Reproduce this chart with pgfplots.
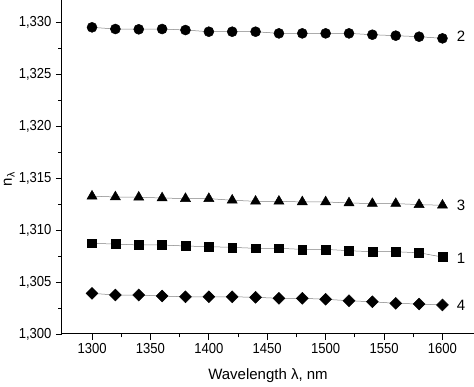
\documentclass[border=0pt]{standalone}
\usepackage{fontspec}
\setmainfont{Liberation Sans}
\newfontfamily\tickfont{Liberation Sans}[FakeStretch=0.9]
\usepackage{pgfplots}
\pgfplotsset{compat=1.18}
\begin{document}
\begin{tikzpicture}[x=1pt,y=1pt]
\begin{axis}[
  at={(0,0)}, anchor=origin,
  scale only axis, width=412pt, height=334pt,
  xmin=1274.3, xmax=1627, ymin=1.300, ymax=1.33212,
  axis lines*=left,
  axis line style={line width=1pt, -},
  tick align=outside,
  major tick length=6pt, minor tick length=3.5pt,
  every tick/.style={black, line width=0.9pt},
  xtick={1300,1350,...,1600}, minor x tick num=1,
  ytick={1.300,1.305,...,1.330}, minor y tick num=1,
  clip=false,
  every tick label/.append style={font=\tickfont\fontsize{14.5}{16}\selectfont},
  /pgf/number format/assume math mode=true,
  yticklabel style={xshift=-1pt, /pgf/number format/.cd, fixed, fixed zerofill, precision=3, use comma},
  xticklabel style={/pgf/number format/.cd, 1000 sep={}},
  scaled y ticks=false,
  xlabel={Wavelength λ, nm},
  xlabel style={font=\fontsize{15}{17}\selectfont, at={(axis description cs:0.5,0)}, anchor=center, yshift=-42pt},
  ylabel={n\textsubscript{λ}},
  ylabel style={font=\fontsize{15}{17}\selectfont, at={(axis description cs:-0.128,0.464)}, anchor=center, rotate=0},
]
\addplot[gray, line width=0.5pt, mark=*, mark size=5pt, mark options={black, fill=black}] coordinates {
(1300,1.32949)(1320,1.32933)(1340,1.32930)(1360,1.32933)(1380,1.32923)(1400,1.32907)(1420,1.32907)(1440,1.32907)(1460,1.32891)(1480,1.32891)(1500,1.32891)(1520,1.32891)(1540,1.32878)(1560,1.32869)(1580,1.32859)(1600,1.32843)};
\addplot[gray, line width=0.5pt, mark=triangle*, mark size=5.8pt, mark options={black, fill=black}] coordinates {
(1300,1.31325)(1320,1.31318)(1340,1.31315)(1360,1.31308)(1380,1.31302)(1400,1.31302)(1420,1.31286)(1440,1.31276)(1460,1.31276)(1480,1.31270)(1500,1.31270)(1520,1.31260)(1540,1.31254)(1560,1.31254)(1580,1.31244)(1600,1.31238)};
\addplot[gray, line width=0.5pt, mark=square*, mark size=4.4pt, mark options={black, fill=black}] coordinates {
(1300,1.30872)(1320,1.30865)(1340,1.30856)(1360,1.30856)(1380,1.30846)(1400,1.30840)(1420,1.30833)(1440,1.30824)(1460,1.30824)(1480,1.30814)(1500,1.30814)(1520,1.30801)(1540,1.30791)(1560,1.30791)(1580,1.30781)(1600,1.30740)};
\addplot[gray, line width=0.5pt, mark=square*, mark size=4.2pt, mark options={black, fill=black, rotate=45}] coordinates {
(1300,1.30391)(1320,1.30375)(1340,1.30375)(1360,1.30365)(1380,1.30358)(1400,1.30358)(1420,1.30358)(1440,1.30353)(1460,1.30343)(1480,1.30343)(1500,1.30334)(1520,1.30320)(1540,1.30310)(1560,1.30295)(1580,1.30288)(1600,1.30279)};
\node[anchor=west, font=\fontsize{15}{17}\selectfont] at (axis cs:1600,1.32860) [xshift=11pt] {2};
\node[anchor=west, font=\fontsize{15}{17}\selectfont] at (axis cs:1600,1.31240) [xshift=11pt] {3};
\node[anchor=west, font=\fontsize{15}{17}\selectfont] at (axis cs:1600,1.30730) [xshift=11pt] {1};
\node[anchor=west, font=\fontsize{15}{17}\selectfont] at (axis cs:1600,1.30280) [xshift=11pt] {4};
\end{axis}
\pgfresetboundingbox
\useasboundingbox (-62pt,-53pt) rectangle (412pt,334pt);
\end{tikzpicture}
\end{document}
